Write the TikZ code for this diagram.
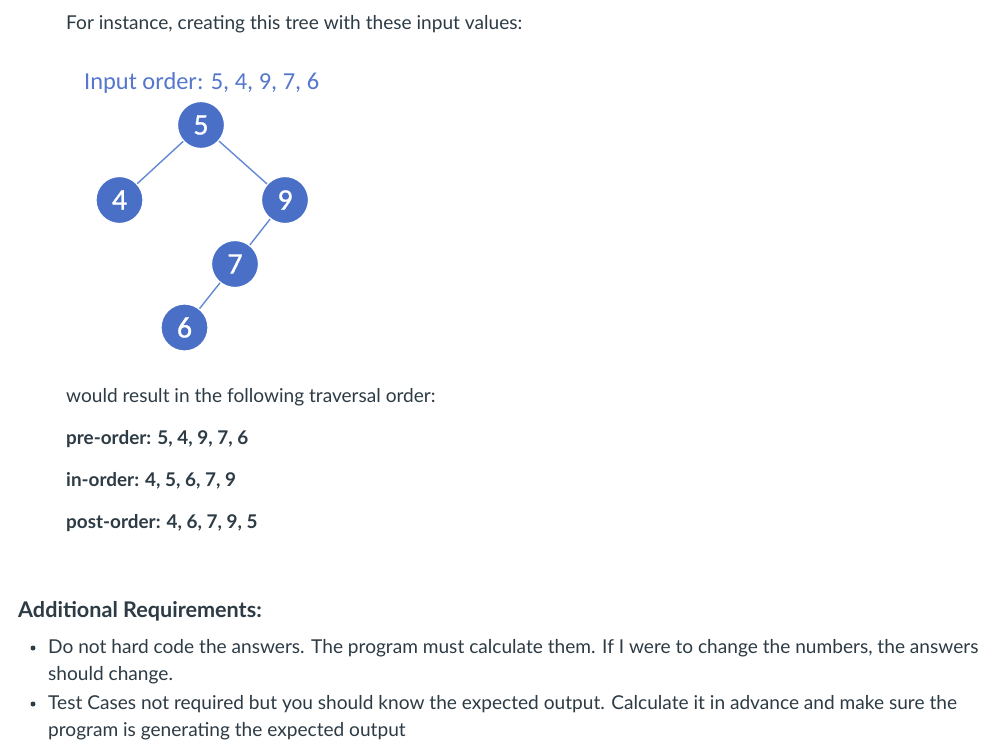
\documentclass[tikz,border=0pt]{standalone}
\usepackage{fontspec}
\setmainfont{Lato}
\newfontfamily\calfont{Carlito}
\newfontfamily\calnum[FakeBold=0.8]{Carlito}
\definecolor{txt}{HTML}{2D3B45}
\definecolor{nodeblue}{HTML}{4A6FC7}
\definecolor{edgeblue}{HTML}{6388D6}
\definecolor{labelblue}{HTML}{5577CC}
\begin{document}
\begin{tikzpicture}[x=1pt,y=-1pt,
  body/.style={anchor=base west,inner sep=0pt,text=txt,font=\fontsize{19.1}{22}\selectfont},
  bodyb/.style={body,font=\fontsize{18.9}{22}\selectfont\bfseries},
  head/.style={anchor=base west,inner sep=0pt,text=txt,font=\fontsize{21.6}{25}\selectfont\bfseries},
  tnode/.style={circle,fill=nodeblue,draw=white,line width=1.2pt,minimum size=47pt,inner sep=0pt,text=white,font=\calnum\fontsize{30}{34}\selectfont},
  tedge/.style={draw=edgeblue,line width=1.4pt},
  bullet/.style={circle,fill=txt,inner sep=0pt,minimum size=5pt}]
\useasboundingbox (0,0) rectangle (1000,755);
\fill[white] (0,0) rectangle (1000,755);
\node[body] (intro) at (66,29) {For instance, creating this tree with these input values:};
\node[anchor=base west,inner sep=0pt,text=labelblue,font=\calfont\fontsize{24.4}{28}\selectfont] (inp) at (84,89) {Input order: 5, 4, 9, 7, 6};
\node[tnode] (n5) at (201,125) {5};
\node[tnode] (n4) at (119.5,200) {4};
\node[tnode] (n9) at (285,200) {9};
\node[tnode] (n7) at (235,264) {7};
\node[tnode] (n6) at (184.5,327.5) {6};
\draw[tedge] (n5) -- (n4);
\draw[tedge] (n5) -- (n9);
\draw[tedge] (n9) -- (n7);
\draw[tedge] (n7) -- (n6);
\node[body] (res) at (66,402) {would result in the following traversal order:};
\node[bodyb] (pre) at (66,444) {pre-order: 5, 4, 9, 7, 6};
\node[bodyb] (in) at (66,486) {in-order: 4, 5, 6, 7, 9};
\node[bodyb] (post) at (66,528) {post-order: 4, 6, 7, 9, 5};
\node[head] (add) at (18,617) {Additional Requirements:};
\node[bullet] (b1) at (33,648) {};
\node[body] (l1) at (48,653) {Do not hard code the answers. The program must calculate them. If I were to change the numbers, the answers};
\node[body] (l2) at (48,680) {should change.};
\node[bullet] (b2) at (33,704) {};
\node[body] (l3) at (48,709) {Test Cases not required but you should know the expected output. Calculate it in advance and make sure the};
\node[body] (l4) at (48,736) {program is generating the expected output};
\end{tikzpicture}
\end{document}
